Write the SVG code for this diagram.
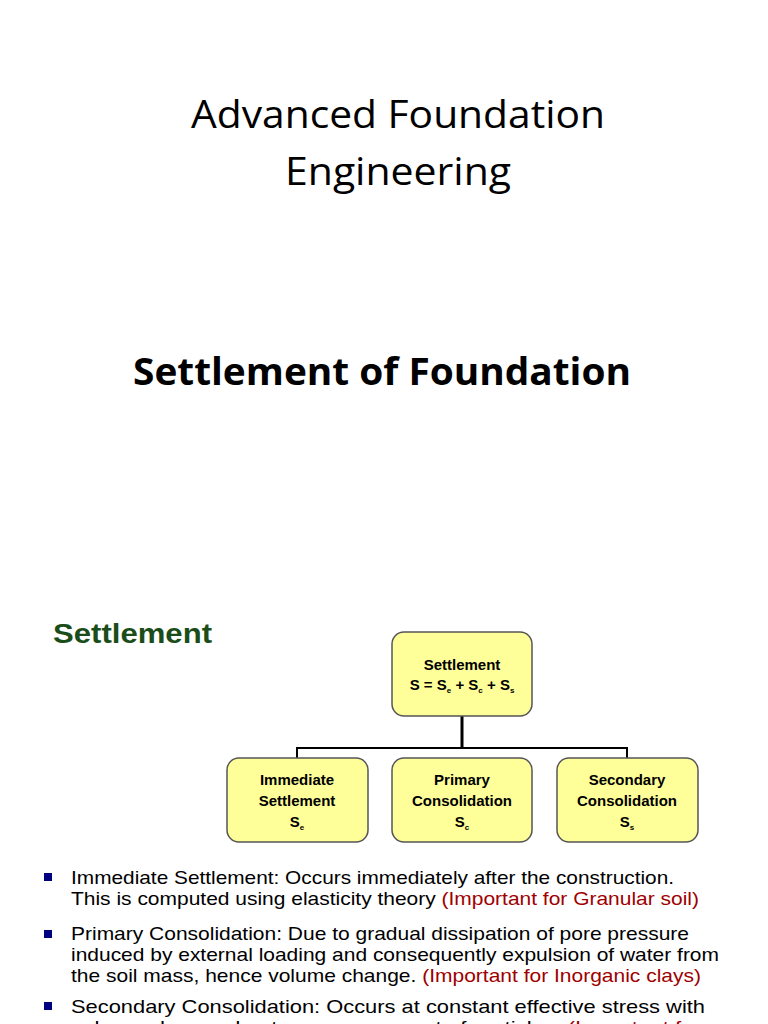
<svg xmlns="http://www.w3.org/2000/svg" width="768" height="1024" viewBox="0 0 768 1024">
<style>
.t{font-family:"Open Sans","Noto Sans",sans-serif;fill:#000}
.n{fill:#ffff99;stroke:#555;stroke-width:1.5}
.nt{font-family:"Liberation Sans",Arial,sans-serif;font-weight:bold;font-size:15px;text-anchor:middle;fill:#000}
.b{font-family:"Liberation Sans",Arial,sans-serif;font-size:19px;fill:#000}
.r{fill:#a00000}
.sq{fill:#000080}
.sub{font-size:8px}
</style>
<rect width="768" height="1024" fill="#fff"/>
<text class="t" x="398" y="128" font-size="38" text-anchor="middle" textLength="414" lengthAdjust="spacingAndGlyphs">Advanced Foundation</text>
<text class="t" x="398" y="185" font-size="38" text-anchor="middle" textLength="226" lengthAdjust="spacingAndGlyphs">Engineering</text>
<text class="t" x="382" y="385" font-size="38" font-weight="bold" text-anchor="middle" textLength="498" lengthAdjust="spacingAndGlyphs">Settlement of Foundation</text>
<text x="53" y="643" font-family="Liberation Sans,Arial,sans-serif" font-weight="bold" font-size="27" fill="#1a4d1a" textLength="159" lengthAdjust="spacingAndGlyphs">Settlement</text>
<g id="connectors" fill="none" stroke="#000" stroke-width="3">
<path d="M462 716V748"/>
<path d="M297 758V748H627V758" stroke-width="2"/>
</g>
<g id="n0"><rect class="n" x="392" y="632" width="140" height="84" rx="12"/>
<text class="nt" x="462" y="670">Settlement</text>
<text class="nt" x="462" y="690">S = S<tspan class="sub" dy="3">e</tspan><tspan dy="-3"> + S</tspan><tspan class="sub" dy="3">c</tspan><tspan dy="-3"> + S</tspan><tspan class="sub" dy="3">s</tspan></text></g>
<g id="n1"><rect class="n" x="227" y="758" width="141" height="84" rx="12"/>
<text class="nt" x="297" y="785">Immediate</text><text class="nt" x="297" y="806">Settlement</text>
<text class="nt" x="297" y="827">S<tspan class="sub" dy="3">e</tspan></text></g>
<g id="n2"><rect class="n" x="392" y="758" width="140" height="84" rx="12"/>
<text class="nt" x="462" y="785">Primary</text><text class="nt" x="462" y="806">Consolidation</text>
<text class="nt" x="462" y="827">S<tspan class="sub" dy="3">c</tspan></text></g>
<g id="n3"><rect class="n" x="557" y="758" width="141" height="84" rx="12"/>
<text class="nt" x="627" y="785">Secondary</text><text class="nt" x="627" y="806">Consolidation</text>
<text class="nt" x="627" y="827">S<tspan class="sub" dy="3">s</tspan></text></g>
<rect class="sq" x="44" y="873" width="8" height="8"/>
<rect class="sq" x="44" y="930" width="8" height="8"/>
<rect class="sq" x="44" y="1002" width="8" height="8"/>
<text class="b" x="71" y="884" textLength="603" lengthAdjust="spacingAndGlyphs">Immediate Settlement: Occurs immediately after the construction.</text>
<text class="b" x="71" y="905" textLength="628" lengthAdjust="spacingAndGlyphs">This is computed using elasticity theory <tspan class="r">(Important for Granular soil)</tspan></text>
<text class="b" x="71" y="940" textLength="618" lengthAdjust="spacingAndGlyphs">Primary Consolidation: Due to gradual dissipation of pore pressure</text>
<text class="b" x="71" y="961" textLength="648" lengthAdjust="spacingAndGlyphs">induced by external loading and consequently expulsion of water from</text>
<text class="b" x="71" y="982" textLength="630" lengthAdjust="spacingAndGlyphs">the soil mass, hence volume change. <tspan class="r">(Important for Inorganic clays)</tspan></text>
<text class="b" x="71" y="1013" textLength="634" lengthAdjust="spacingAndGlyphs">Secondary Consolidation: Occurs at constant effective stress with</text>
<text class="b" x="71" y="1034" textLength="630" lengthAdjust="spacingAndGlyphs">volume change due to rearrangement of particles. <tspan class="r">(Important for</tspan></text>
</svg>
